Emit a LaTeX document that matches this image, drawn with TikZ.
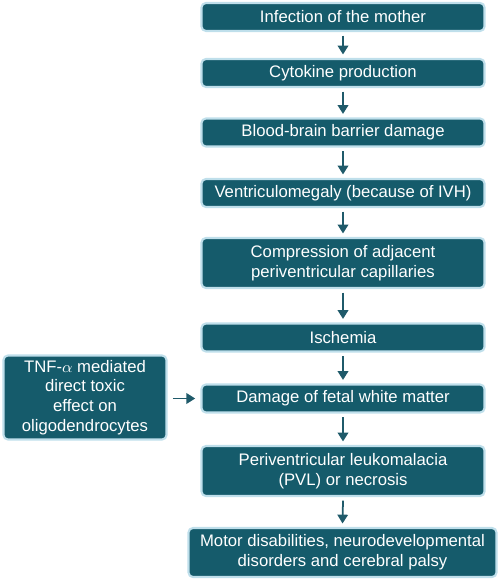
\documentclass[tikz,border=0pt]{standalone}
\usepackage{fontspec}
\setmainfont{Liberation Sans}
\usepackage{xcolor}
\usetikzlibrary{arrows.meta,positioning}

\definecolor{boxteal}{HTML}{155B6B}
\definecolor{boxrim}{HTML}{BFDFEB}
\definecolor{arrowteal}{HTML}{1F5A6A}

\begin{document}
\begin{tikzpicture}[
  x=0.02cm, y=-0.02cm,
  every node/.style={font=\fontsize{9.5}{11.2}\selectfont},
  stepbox/.style={draw=boxrim, line width=1.2pt, fill=boxteal, text=white,
    rounded corners=2.5pt, align=center, inner sep=1pt, minimum width=5.66cm},
  sidebox/.style={stepbox, minimum width=3.26cm, minimum height=1.68cm},
  flow/.style={-{Triangle[length=5pt,width=6pt]}, draw=arrowteal, line width=1pt},
]
\useasboundingbox (0,0) rectangle (500,580);

% --- main chain
\node[stepbox, minimum height=0.56cm] (infection) at (343,17) {Infection of the mother};
\node[stepbox, minimum height=0.56cm] (cytokine) at (343,73) {Cytokine production};
\node[stepbox, minimum height=0.56cm] (bbb) at (343,132.5) {Blood-brain barrier damage};
\node[stepbox, minimum height=0.56cm] (ventri) at (343,193) {Ventriculomegaly (because of IVH)};
\node[stepbox, minimum height=1.0cm] (compress) at (343,263) {Compression of adjacent\\periventricular capillaries};
\node[stepbox, minimum height=0.56cm] (ischemia) at (343,337.5) {Ischemia};
\node[stepbox, minimum height=0.56cm] (damage) at (343,398.5) {Damage of fetal white matter};
\node[stepbox, minimum height=1.0cm] (pvl) at (343,471) {Periventricular leukomalacia\\(PVL) or necrosis};
\node[stepbox, minimum height=0.98cm, minimum width=6.16cm] (motor) at (342.5,552.5) {Motor disabilities, neurodevelopmental\\disorders and cerebral palsy};

% --- side cause
\node[sidebox] (tnf) at (85,397.5) {TNF-$\alpha$ mediated\\direct toxic\\effect on\\oligodendrocytes};

% --- arrows
\foreach \from/\to in {infection/cytokine, cytokine/bbb, bbb/ventri, ventri/compress,
  compress/ischemia, ischemia/damage, damage/pvl, pvl/motor}
  \draw[flow] ([yshift=-2pt]\from.south) -- ([yshift=2pt]\to.north);
\draw[flow] ([xshift=3pt]tnf.east |- damage) -- ([xshift=-3pt]damage.west);
\end{tikzpicture}
\end{document}
